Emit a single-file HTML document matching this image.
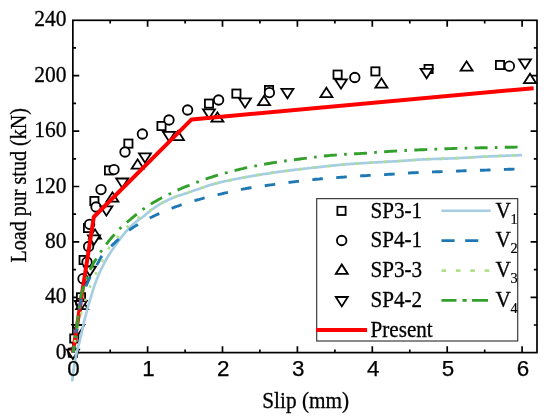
<!DOCTYPE html>
<html lang="en"><head><meta charset="utf-8"><title>Load-slip curves</title>
<style>html,body{margin:0;padding:0;background:#fff}svg{display:block}.se{font-family:"Liberation Serif","Times New Roman",serif;font-size:23px;fill:#000;stroke:#000;stroke-width:0.3px}.sa{font-family:"Liberation Sans",Arial,sans-serif;font-size:22.4px;fill:#000;stroke:#000;stroke-width:0.25px}.sub{font-family:"Liberation Serif",serif;font-size:15.2px;fill:#000;stroke:#000;stroke-width:0.2px}.m{fill:#fff;stroke:#000;stroke-width:1.8}</style></head><body>
<svg width="550" height="420" viewBox="0 0 550 420">
<rect width="550" height="420" fill="#fff"/>
<rect x="72.85" y="20.3" width="464.15" height="332.3" fill="none" stroke="#000" stroke-width="1.7"/>
<path d="M72.85,325.0h3.2M537.0,325.0h-3.2M72.85,297.3h6.4M537.0,297.3h-6.4M72.85,269.6h3.2M537.0,269.6h-3.2M72.85,241.9h6.4M537.0,241.9h-6.4M72.85,214.2h3.2M537.0,214.2h-3.2M72.85,186.5h6.4M537.0,186.5h-6.4M72.85,158.8h3.2M537.0,158.8h-3.2M72.85,131.1h6.4M537.0,131.1h-6.4M72.85,103.3h3.2M537.0,103.3h-3.2M72.85,75.6h6.4M537.0,75.6h-6.4M72.85,47.9h3.2M537.0,47.9h-3.2M110.2,352.6v-3.2M110.2,20.3v3.2M147.6,352.6v-6.4M147.6,20.3v6.4M185.1,352.6v-3.2M185.1,20.3v3.2M222.5,352.6v-6.4M222.5,20.3v6.4M259.9,352.6v-3.2M259.9,20.3v3.2M297.4,352.6v-6.4M297.4,20.3v6.4M334.9,352.6v-3.2M334.9,20.3v3.2M372.3,352.6v-6.4M372.3,20.3v6.4M409.8,352.6v-3.2M409.8,20.3v3.2M447.2,352.6v-6.4M447.2,20.3v6.4M484.7,352.6v-3.2M484.7,20.3v3.2M522.1,352.6v-6.4M522.1,20.3v6.4" stroke="#000" stroke-width="1.7" fill="none"/>
<rect class="m" x="68.8" y="348.6" width="8.2" height="8.2"/>
<rect class="m" x="70.2" y="334.4" width="8.2" height="8.2"/>
<rect class="m" x="76.9" y="293.2" width="8.2" height="8.2"/>
<rect class="m" x="79.5" y="255.9" width="8.2" height="8.2"/>
<rect class="m" x="83.9" y="223.9" width="8.2" height="8.2"/>
<rect class="m" x="90.3" y="196.9" width="8.2" height="8.2"/>
<rect class="m" x="104.9" y="166.3" width="8.2" height="8.2"/>
<rect class="m" x="124.3" y="139.5" width="8.2" height="8.2"/>
<rect class="m" x="157.4" y="121.9" width="8.2" height="8.2"/>
<rect class="m" x="204.9" y="99.5" width="8.2" height="8.2"/>
<rect class="m" x="232.3" y="89.5" width="8.2" height="8.2"/>
<rect class="m" x="264.9" y="85.9" width="8.2" height="8.2"/>
<rect class="m" x="333.5" y="70.5" width="8.2" height="8.2"/>
<rect class="m" x="371.3" y="67.3" width="8.2" height="8.2"/>
<rect class="m" x="424.5" y="64.9" width="8.2" height="8.2"/>
<rect class="m" x="495.9" y="60.9" width="8.2" height="8.2"/>
<circle class="m" cx="72.9" cy="352.7" r="4.75"/>
<circle class="m" cx="80.6" cy="303.1" r="4.75"/>
<circle class="m" cx="83.0" cy="278.7" r="4.75"/>
<circle class="m" cx="87.0" cy="262.0" r="4.75"/>
<circle class="m" cx="88.6" cy="246.5" r="4.75"/>
<circle class="m" cx="89.6" cy="224.3" r="4.75"/>
<circle class="m" cx="96.0" cy="207.0" r="4.75"/>
<circle class="m" cx="101.0" cy="189.6" r="4.75"/>
<circle class="m" cx="114.0" cy="169.6" r="4.75"/>
<circle class="m" cx="125.0" cy="152.0" r="4.75"/>
<circle class="m" cx="142.4" cy="134.0" r="4.75"/>
<circle class="m" cx="169.0" cy="120.0" r="4.75"/>
<circle class="m" cx="187.6" cy="110.0" r="4.75"/>
<circle class="m" cx="218.6" cy="100.0" r="4.75"/>
<circle class="m" cx="269.4" cy="92.6" r="4.75"/>
<circle class="m" cx="354.8" cy="77.5" r="4.75"/>
<circle class="m" cx="509.4" cy="66.2" r="4.75"/>
<path class="m" d="M76.1,309.2L88.1,309.2L82.1,299.8Z"/>
<path class="m" d="M89.0,238.7L101.0,238.7L95.0,229.3Z"/>
<path class="m" d="M106.4,201.7L118.4,201.7L112.4,192.3Z"/>
<path class="m" d="M131.6,168.7L143.6,168.7L137.6,159.3Z"/>
<path class="m" d="M172.0,140.2L184.0,140.2L178.0,130.8Z"/>
<path class="m" d="M211.4,121.7L223.4,121.7L217.4,112.3Z"/>
<path class="m" d="M258.0,105.2L270.0,105.2L264.0,95.8Z"/>
<path class="m" d="M320.4,97.1L332.4,97.1L326.4,87.7Z"/>
<path class="m" d="M375.4,87.7L387.4,87.7L381.4,78.3Z"/>
<path class="m" d="M460.6,70.7L472.6,70.7L466.6,61.3Z"/>
<path class="m" d="M524.0,83.1L536.0,83.1L530.0,73.7Z"/>
<path class="m" d="M66.9,349.6L78.9,349.6L72.9,359.0Z"/>
<path class="m" d="M72.3,325.0L84.3,325.0L78.3,334.4Z"/>
<path class="m" d="M74.8,301.0L86.8,301.0L80.8,310.4Z"/>
<path class="m" d="M83.9,266.6L95.9,266.6L89.9,276.0Z"/>
<path class="m" d="M88.0,235.3L100.0,235.3L94.0,244.7Z"/>
<path class="m" d="M100.4,206.3L112.4,206.3L106.4,215.7Z"/>
<path class="m" d="M116.2,178.5L128.2,178.5L122.2,187.9Z"/>
<path class="m" d="M139.0,153.3L151.0,153.3L145.0,162.7Z"/>
<path class="m" d="M163.0,131.9L175.0,131.9L169.0,141.3Z"/>
<path class="m" d="M203.0,109.3L215.0,109.3L209.0,118.7Z"/>
<path class="m" d="M239.0,98.3L251.0,98.3L245.0,107.7Z"/>
<path class="m" d="M281.4,88.9L293.4,88.9L287.4,98.3Z"/>
<path class="m" d="M335.0,79.3L347.0,79.3L341.0,88.7Z"/>
<path class="m" d="M420.6,68.9L432.6,68.9L426.6,78.3Z"/>
<path class="m" d="M519.0,59.3L531.0,59.3L525.0,68.7Z"/>
<path d="M72.9,352.8 L93.8,217.0 L191.6,119.4 L533.6,88.2" fill="none" stroke="#ff0000" stroke-width="4" stroke-linejoin="round"/>
<path d="M72.2,381.5 L72.3,380.1 L72.5,378.6 L72.6,377.2 L72.8,375.8 L73.0,374.3 L73.2,372.9 L73.3,371.5 L73.6,370.1 L73.8,368.6 L74.0,367.2 L74.2,365.8 L74.5,364.4 L74.7,363.0 L75.0,361.6 L75.2,360.2 L75.5,358.7 L75.8,357.3 L76.0,355.9 L76.3,354.5 L76.6,353.1 L76.9,351.7 L77.2,350.3 L77.6,348.9 L77.9,347.5 L78.3,346.2 L78.7,344.8 L79.1,343.4 L79.5,342.0 L79.8,340.6 L80.2,339.2 L80.5,337.8 L80.8,336.4 L81.2,335.0 L81.5,333.6 L81.8,332.2 L82.1,330.8 L82.4,329.4 L82.7,328.0 L83.0,326.6 L83.3,325.2 L83.6,323.8 L83.9,322.4 L84.3,321.0 L84.6,319.6 L84.9,318.2 L85.3,316.8 L85.7,315.4 L86.0,314.1 L86.4,312.7 L86.8,311.3 L87.1,309.9 L87.5,308.5 L87.9,307.1 L88.3,305.7 L88.7,304.4 L89.1,303.0 L89.5,301.6 L89.9,300.2 L90.3,298.9 L90.8,297.5 L91.2,296.1 L91.6,294.7 L92.0,293.3 L92.4,292.0 L92.8,290.6 L93.3,289.2 L93.7,287.9 L94.2,286.5 L94.6,285.1 L95.1,283.8 L95.6,282.4 L96.1,281.1 L96.6,279.8 L97.1,278.4 L97.7,277.1 L98.2,275.8 L98.8,274.5 L99.4,273.1 L100.0,271.8 L100.6,270.5 L101.2,269.2 L101.8,267.9 L102.5,266.6 L103.1,265.4 L103.8,264.1 L104.4,262.8 L105.1,261.5 L105.8,260.3 L106.5,259.0 L107.2,257.8 L107.9,256.6 L108.7,255.3 L109.5,254.1 L110.2,252.9 L111.0,251.7 L111.8,250.5 L112.7,249.3 L113.5,248.2 L114.3,247.0 L115.1,245.8 L116.0,244.6 L116.8,243.5 L117.6,242.3 L118.5,241.1 L119.3,240.0 L120.2,238.8 L121.1,237.7 L121.9,236.5 L122.8,235.4 L123.7,234.3 L124.7,233.2 L125.6,232.1 L126.5,231.0 L127.5,230.0 L128.5,228.9 L129.5,227.8 L130.5,226.8 L131.5,225.8 L132.5,224.8 L133.6,223.8 L134.6,222.9 L135.7,222.0 L136.9,221.1 L138.0,220.3 L139.2,219.4 L140.4,218.6 L141.6,217.8 L142.7,217.0 L143.9,216.1 L145.0,215.2 L146.1,214.3 L147.2,213.3 L148.3,212.4 L149.4,211.5 L150.5,210.6 L151.7,209.7 L152.8,208.9 L154.0,208.1 L155.2,207.2 L156.4,206.4 L157.6,205.6 L158.8,204.9 L160.0,204.1 L161.3,203.4 L162.5,202.7 L163.8,202.0 L165.1,201.4 L166.3,200.8 L167.6,200.1 L169.0,199.5 L170.3,198.9 L171.6,198.4 L172.9,197.8 L174.3,197.3 L175.6,196.8 L176.9,196.3 L178.3,195.8 L179.7,195.4 L181.0,194.9 L182.4,194.5 L183.8,194.0 L185.1,193.6 L186.5,193.2 L187.9,192.7 L189.2,192.2 L190.6,191.8 L191.9,191.3 L193.3,190.8 L194.7,190.3 L196.0,189.9 L197.4,189.4 L198.7,188.9 L200.1,188.4 L201.4,187.9 L202.8,187.5 L204.2,187.0 L205.5,186.5 L206.9,186.1 L208.2,185.6 L209.6,185.2 L211.0,184.8 L212.4,184.4 L213.7,184.0 L215.1,183.6 L216.5,183.3 L217.9,182.9 L219.3,182.6 L220.7,182.2 L222.1,181.9 L223.5,181.6 L224.9,181.3 L226.3,181.0 L227.7,180.7 L229.1,180.4 L230.5,180.1 L231.9,179.8 L233.3,179.5 L234.7,179.2 L236.1,179.0 L237.5,178.7 L239.0,178.4 L240.4,178.2 L241.8,177.9 L243.2,177.6 L244.6,177.4 L246.0,177.1 L247.4,176.8 L248.8,176.6 L250.2,176.3 L251.7,176.1 L253.1,175.8 L254.5,175.6 L255.9,175.4 L257.3,175.1 L258.7,174.9 L260.2,174.7 L261.6,174.4 L263.0,174.2 L264.4,174.0 L265.8,173.8 L267.2,173.6 L268.7,173.4 L270.1,173.1 L271.5,172.9 L272.9,172.7 L274.4,172.5 L275.8,172.3 L277.2,172.1 L278.6,171.9 L280.0,171.7 L281.5,171.5 L282.9,171.4 L284.3,171.2 L285.7,171.0 L287.2,170.8 L288.6,170.6 L290.0,170.4 L291.4,170.2 L292.9,170.1 L294.3,169.9 L295.7,169.7 L297.1,169.5 L298.6,169.4 L300.0,169.2 L301.4,169.0 L302.8,168.9 L304.3,168.7 L305.7,168.5 L307.1,168.4 L308.5,168.2 L310.0,168.0 L311.4,167.9 L312.8,167.7 L314.2,167.6 L315.7,167.4 L317.1,167.3 L318.5,167.1 L320.0,166.9 L321.4,166.8 L322.8,166.6 L324.2,166.5 L325.7,166.3 L327.1,166.2 L328.5,166.0 L329.9,165.9 L331.4,165.7 L332.8,165.6 L334.2,165.4 L335.7,165.3 L337.1,165.1 L338.5,165.0 L339.9,164.9 L341.4,164.7 L342.8,164.6 L344.2,164.5 L345.7,164.3 L347.1,164.2 L348.5,164.1 L350.0,164.0 L351.4,163.9 L352.8,163.8 L354.3,163.7 L355.7,163.6 L357.1,163.5 L358.6,163.4 L360.0,163.3 L361.4,163.2 L362.9,163.2 L364.3,163.1 L365.7,163.0 L367.2,162.9 L368.6,162.8 L370.0,162.7 L371.5,162.6 L372.9,162.5 L374.3,162.5 L375.8,162.4 L377.2,162.3 L378.6,162.2 L380.1,162.1 L381.5,162.1 L382.9,162.0 L384.4,161.9 L385.8,161.8 L387.2,161.7 L388.7,161.7 L390.1,161.6 L391.5,161.5 L393.0,161.4 L394.4,161.3 L395.8,161.3 L397.3,161.2 L398.7,161.1 L400.1,161.0 L401.6,160.9 L403.0,160.8 L404.4,160.7 L405.8,160.6 L407.3,160.5 L408.7,160.4 L410.1,160.3 L411.6,160.2 L413.0,160.1 L414.4,160.0 L415.9,159.9 L417.3,159.7 L418.7,159.7 L420.2,159.6 L421.6,159.5 L423.0,159.4 L424.5,159.3 L425.9,159.3 L427.3,159.2 L428.8,159.2 L430.2,159.1 L431.6,159.1 L433.1,159.0 L434.5,159.0 L435.9,158.9 L437.4,158.9 L438.8,158.9 L440.3,158.8 L441.7,158.8 L443.1,158.7 L444.6,158.7 L446.0,158.6 L447.4,158.6 L448.9,158.5 L450.3,158.5 L451.7,158.4 L453.2,158.4 L454.6,158.3 L456.0,158.2 L457.5,158.2 L458.9,158.1 L460.3,158.0 L461.8,157.9 L463.2,157.8 L464.6,157.8 L466.1,157.7 L467.5,157.6 L468.9,157.5 L470.4,157.4 L471.8,157.3 L473.2,157.3 L474.7,157.2 L476.1,157.1 L477.5,157.0 L479.0,156.9 L480.4,156.9 L481.8,156.8 L483.3,156.7 L484.7,156.6 L486.1,156.6 L487.6,156.5 L489.0,156.4 L490.4,156.4 L491.9,156.3 L493.3,156.2 L494.7,156.2 L496.2,156.1 L497.6,156.1 L499.0,156.0 L500.5,155.9 L501.9,155.9 L503.3,155.8 L504.8,155.8 L506.2,155.7 L507.7,155.6 L509.1,155.6 L510.5,155.5 L512.0,155.5 L513.4,155.4 L514.8,155.4 L516.3,155.3 L517.7,155.3 L519.1,155.2 L520.6,155.2 L522.0,155.1" fill="none" stroke="#a6cee3" stroke-width="2.7"/>
<path d="M73.2,352.6 L73.4,351.3 L73.6,350.0 L73.8,348.6 L74.0,347.3 L74.2,346.0 L74.3,344.7 L74.5,343.3 L74.7,342.0 L74.9,340.7 L75.1,339.4 L75.3,338.0 L75.5,336.7 L75.7,335.4 L75.9,334.1 L76.0,332.7 L76.2,331.4 L76.4,330.1 L76.6,328.7 L76.8,327.4 L77.0,326.1 L77.2,324.8 L77.3,323.4 L77.5,322.1 L77.7,320.8 L77.9,319.5 L78.1,318.1 L78.3,316.8 L78.5,315.5 L78.7,314.2 L78.9,312.8 L79.0,311.5 L79.2,310.2 L79.4,308.8 L79.6,307.5 L79.8,306.2 L80.0,304.9 L80.3,303.5 L80.5,302.2 L80.8,300.9 L81.1,299.7 L81.4,298.4 L81.8,297.1 L82.1,295.8 L82.6,294.5 L83.0,293.3 L83.5,292.0 L84.0,290.8 L84.5,289.5 L85.0,288.3 L85.5,287.0 L86.1,285.8 L86.6,284.6 L87.2,283.3 L87.7,282.1 L88.3,280.9 L88.8,279.7 L89.4,278.5 L90.0,277.3 L90.6,276.1 L91.3,274.9 L91.9,273.8 L92.5,272.6 L93.2,271.4 L93.9,270.2 L94.5,269.1 L95.2,267.9 L95.8,266.7 L96.5,265.6 L97.2,264.4 L97.8,263.2 L98.5,262.1 L99.1,260.9 L99.7,259.7 L100.3,258.5 L101.0,257.3 L101.7,256.2 L102.5,255.2 L103.3,254.1 L104.1,253.1 L105.0,252.1 L106.0,251.1 L106.9,250.2 L107.9,249.2 L108.8,248.3 L109.8,247.4 L110.8,246.4 L111.8,245.5 L112.8,244.6 L113.8,243.7 L114.8,242.8 L115.7,241.9 L116.7,240.9 L117.7,240.0 L118.7,239.1 L119.7,238.2 L120.7,237.3 L121.7,236.4 L122.7,235.5 L123.7,234.6 L124.8,233.8 L125.8,232.9 L126.8,232.1 L127.9,231.2 L128.9,230.4 L130.0,229.6 L131.1,228.8 L132.2,228.1 L133.3,227.3 L134.4,226.6 L135.5,225.9 L136.6,225.2 L137.8,224.5 L138.9,223.8 L140.1,223.2 L141.2,222.5 L142.4,221.8 L143.6,221.2 L144.8,220.6 L146.0,220.0 L147.2,219.3 L148.4,218.7 L149.6,218.1 L150.8,217.5 L152.0,217.0 L153.2,216.4 L154.4,215.8 L155.6,215.2 L156.8,214.7 L158.0,214.1 L159.3,213.5 L160.5,213.0 L161.7,212.5 L162.9,211.9 L164.2,211.4 L165.4,210.9 L166.6,210.3 L167.9,209.8 L169.1,209.3 L170.4,208.8 L171.6,208.3 L172.9,207.8 L174.1,207.4 L175.4,206.9 L176.6,206.5 L177.9,206.0 L179.1,205.6 L180.4,205.1 L181.7,204.7 L182.9,204.3 L184.2,203.9 L185.5,203.5 L186.8,203.0 L188.0,202.6 L189.3,202.3 L190.6,201.9 L191.9,201.5 L193.2,201.1 L194.5,200.7 L195.8,200.4 L197.0,200.0 L198.3,199.6 L199.6,199.3 L200.9,198.9 L202.2,198.6 L203.5,198.2 L204.8,197.9 L206.1,197.5 L207.4,197.2 L208.7,196.9 L210.0,196.6 L211.3,196.2 L212.6,195.9 L213.9,195.6 L215.2,195.3 L216.5,195.0 L217.8,194.7 L219.1,194.4 L220.4,194.1 L221.7,193.8 L223.0,193.5 L224.3,193.2 L225.6,192.9 L226.9,192.6 L228.2,192.3 L229.5,192.0 L230.8,191.7 L232.1,191.4 L233.4,191.1 L234.8,190.8 L236.1,190.5 L237.4,190.2 L238.7,190.0 L240.0,189.7 L241.3,189.4 L242.6,189.2 L243.9,188.9 L245.2,188.7 L246.6,188.4 L247.9,188.2 L249.2,188.0 L250.5,187.8 L251.8,187.6 L253.2,187.4 L254.5,187.2 L255.8,187.0 L257.1,186.8 L258.5,186.6 L259.8,186.4 L261.1,186.2 L262.4,186.1 L263.8,185.9 L265.1,185.7 L266.4,185.5 L267.7,185.3 L269.1,185.1 L270.4,184.9 L271.7,184.8 L273.1,184.6 L274.4,184.4 L275.7,184.2 L277.0,184.0 L278.4,183.8 L279.7,183.7 L281.0,183.5 L282.3,183.3 L283.7,183.1 L285.0,182.9 L286.3,182.8 L287.6,182.6 L289.0,182.4 L290.3,182.3 L291.6,182.1 L293.0,181.9 L294.3,181.8 L295.6,181.6 L296.9,181.4 L298.3,181.3 L299.6,181.1 L300.9,181.0 L302.3,180.8 L303.6,180.6 L304.9,180.5 L306.2,180.3 L307.6,180.2 L308.9,180.0 L310.2,179.9 L311.6,179.7 L312.9,179.6 L314.2,179.5 L315.6,179.3 L316.9,179.2 L318.2,179.1 L319.6,179.0 L320.9,178.8 L322.2,178.7 L323.6,178.6 L324.9,178.5 L326.2,178.4 L327.6,178.3 L328.9,178.2 L330.2,178.1 L331.6,178.0 L332.9,177.9 L334.2,177.8 L335.6,177.7 L336.9,177.6 L338.2,177.5 L339.6,177.4 L340.9,177.3 L342.2,177.2 L343.6,177.1 L344.9,177.0 L346.2,176.9 L347.6,176.8 L348.9,176.7 L350.3,176.6 L351.6,176.5 L352.9,176.4 L354.3,176.4 L355.6,176.3 L356.9,176.2 L358.3,176.1 L359.6,176.0 L360.9,175.9 L362.3,175.8 L363.6,175.8 L364.9,175.7 L366.3,175.6 L367.6,175.5 L369.0,175.4 L370.3,175.4 L371.6,175.3 L373.0,175.2 L374.3,175.1 L375.6,175.1 L377.0,175.0 L378.3,174.9 L379.6,174.8 L381.0,174.8 L382.3,174.7 L383.7,174.6 L385.0,174.6 L386.3,174.5 L387.7,174.4 L389.0,174.3 L390.3,174.2 L391.7,174.2 L393.0,174.1 L394.3,174.0 L395.7,173.9 L397.0,173.8 L398.4,173.7 L399.7,173.6 L401.0,173.5 L402.4,173.4 L403.7,173.3 L405.0,173.2 L406.4,173.2 L407.7,173.1 L409.0,173.0 L410.4,172.9 L411.7,172.8 L413.0,172.8 L414.4,172.7 L415.7,172.6 L417.1,172.6 L418.4,172.5 L419.7,172.4 L421.1,172.4 L422.4,172.3 L423.7,172.3 L425.1,172.2 L426.4,172.2 L427.7,172.1 L429.1,172.1 L430.4,172.0 L431.8,172.0 L433.1,171.9 L434.4,171.9 L435.8,171.8 L437.1,171.8 L438.5,171.7 L439.8,171.7 L441.1,171.6 L442.5,171.6 L443.8,171.5 L445.1,171.5 L446.5,171.4 L447.8,171.4 L449.2,171.4 L450.5,171.3 L451.8,171.3 L453.2,171.2 L454.5,171.2 L455.8,171.1 L457.2,171.1 L458.5,171.0 L459.9,171.0 L461.2,170.9 L462.5,170.9 L463.9,170.8 L465.2,170.8 L466.5,170.7 L467.9,170.7 L469.2,170.7 L470.6,170.6 L471.9,170.6 L473.2,170.5 L474.6,170.5 L475.9,170.4 L477.2,170.4 L478.6,170.3 L479.9,170.3 L481.3,170.2 L482.6,170.2 L483.9,170.2 L485.3,170.1 L486.6,170.1 L487.9,170.0 L489.3,170.0 L490.6,169.9 L492.0,169.9 L493.3,169.8 L494.6,169.8 L496.0,169.7 L497.3,169.7 L498.6,169.7 L500.0,169.6 L501.3,169.6 L502.7,169.5 L504.0,169.5 L505.3,169.4 L506.7,169.4 L508.0,169.3 L509.3,169.3 L510.7,169.2 L512.0,169.2 L513.4,169.1 L514.7,169.1" fill="none" stroke="#1f78b4" stroke-width="2.9" stroke-dasharray="10.6 13.4" stroke-dashoffset="4.36"/>
<path d="M73.2,352.6 L73.4,351.3 L73.5,349.9 L73.7,348.6 L73.9,347.2 L74.1,345.9 L74.3,344.5 L74.6,343.2 L74.8,341.9 L75.0,340.5 L75.3,339.2 L75.5,337.9 L75.8,336.5 L76.1,335.2 L76.4,333.9 L76.7,332.6 L77.0,331.3 L77.3,329.9 L77.6,328.6 L78.0,327.3 L78.3,326.0 L78.6,324.7 L78.9,323.3 L79.2,322.0 L79.5,320.7 L79.7,319.4 L80.0,318.0 L80.3,316.7 L80.6,315.4 L81.0,314.1 L81.3,312.8 L81.6,311.5 L82.0,310.2 L82.4,308.9 L82.8,307.6 L83.3,306.3 L83.7,305.0 L84.2,303.7 L84.6,302.5 L85.1,301.2 L85.5,299.9 L86.0,298.6 L86.4,297.3 L86.8,296.1 L87.2,294.8 L87.7,293.5 L88.1,292.2 L88.5,290.9 L89.0,289.6 L89.4,288.3 L89.9,287.1 L90.4,285.8 L90.9,284.6 L91.4,283.3 L91.9,282.1 L92.5,280.8 L93.0,279.6 L93.6,278.3 L94.2,277.1 L94.7,275.9 L95.3,274.7 L95.9,273.4 L96.5,272.2 L97.1,271.0 L97.6,269.8 L98.2,268.5 L98.8,267.3 L99.4,266.1 L100.0,264.9 L100.6,263.7 L101.2,262.5 L101.9,261.3 L102.5,260.1 L103.1,258.8 L103.7,257.6 L104.3,256.4 L104.9,255.2 L105.5,254.0 L106.2,252.8 L106.8,251.6 L107.5,250.4 L108.2,249.3 L108.9,248.2 L109.7,247.0 L110.5,246.0 L111.3,244.9 L112.1,243.8 L113.0,242.7 L113.9,241.7 L114.7,240.7 L115.6,239.6 L116.5,238.6 L117.4,237.5 L118.3,236.5 L119.1,235.5 L120.0,234.4 L120.9,233.4 L121.8,232.4 L122.7,231.4 L123.6,230.4 L124.6,229.4 L125.5,228.5 L126.5,227.5 L127.5,226.6 L128.5,225.7 L129.5,224.8 L130.5,223.9 L131.5,223.0 L132.6,222.1 L133.7,221.3 L134.7,220.4 L135.8,219.6 L136.9,218.8 L138.0,218.0 L139.1,217.2 L140.2,216.5 L141.3,215.8 L142.5,215.0 L143.7,214.3 L144.8,213.6 L146.0,212.9 L147.1,212.2 L148.3,211.5 L149.5,210.8 L150.6,210.1 L151.8,209.4 L152.9,208.6 L154.0,207.9 L155.2,207.1 L156.3,206.4 L157.5,205.7 L158.6,205.0 L159.8,204.3 L160.9,203.6 L162.1,202.9 L163.3,202.3 L164.5,201.7 L165.7,201.1 L167.0,200.5 L168.2,199.9 L169.4,199.3 L170.7,198.8 L171.9,198.3 L173.2,197.7 L174.4,197.2 L175.7,196.7 L176.9,196.3 L178.2,195.8 L179.5,195.4 L180.8,195.0 L182.1,194.6 L183.4,194.2 L184.7,193.8 L186.0,193.3 L187.3,192.9 L188.5,192.5 L189.8,192.0 L191.1,191.6 L192.4,191.2 L193.7,190.7 L194.9,190.2 L196.2,189.8 L197.5,189.3 L198.8,188.9 L200.1,188.4 L201.4,188.0 L202.6,187.5 L203.9,187.1 L205.2,186.6 L206.5,186.2 L207.8,185.8 L209.1,185.4 L210.4,185.0 L211.6,184.6 L212.9,184.2 L214.2,183.8 L215.5,183.5 L216.9,183.2 L218.2,182.8 L219.5,182.5 L220.8,182.2 L222.1,181.9 L223.4,181.6 L224.8,181.3 L226.1,181.0 L227.4,180.7 L228.7,180.4 L230.1,180.2 L231.4,179.9 L232.7,179.6 L234.1,179.4 L235.4,179.1 L236.7,178.9 L238.1,178.6 L239.4,178.3 L240.7,178.1 L242.1,177.8 L243.4,177.6 L244.7,177.3 L246.0,177.1 L247.4,176.9 L248.7,176.6 L250.0,176.4 L251.4,176.1 L252.7,175.9 L254.1,175.7 L255.4,175.4 L256.7,175.2 L258.1,175.0 L259.4,174.8 L260.7,174.6 L262.1,174.4 L263.4,174.1 L264.8,173.9 L266.1,173.7 L267.4,173.5 L268.8,173.3 L270.1,173.1 L271.5,172.9 L272.8,172.7 L274.1,172.6 L275.5,172.4 L276.8,172.2 L278.2,172.0 L279.5,171.8 L280.9,171.6 L282.2,171.4 L283.5,171.3 L284.9,171.1 L286.2,170.9 L287.6,170.7 L288.9,170.6 L290.3,170.4 L291.6,170.2 L293.0,170.1 L294.3,169.9 L295.6,169.7 L297.0,169.6 L298.3,169.4 L299.7,169.2 L301.0,169.1 L302.4,168.9 L303.7,168.7 L305.1,168.6 L306.4,168.4 L307.8,168.3 L309.1,168.1 L310.4,168.0 L311.8,167.8 L313.1,167.7 L314.5,167.5 L315.8,167.4 L317.2,167.2 L318.5,167.1 L319.9,167.0 L321.2,166.8 L322.6,166.7 L323.9,166.5 L325.3,166.4 L326.6,166.2 L328.0,166.1 L329.3,166.0 L330.7,165.8 L332.0,165.7 L333.4,165.5 L334.7,165.4 L336.1,165.3 L337.4,165.1 L338.7,165.0 L340.1,164.8 L341.4,164.7 L342.8,164.6 L344.1,164.5 L345.5,164.4 L346.8,164.3 L348.2,164.1 L349.5,164.0 L350.9,163.9 L352.2,163.9 L353.6,163.8 L355.0,163.7 L356.3,163.6 L357.7,163.5 L359.0,163.4 L360.4,163.3 L361.7,163.2 L363.1,163.1 L364.4,163.1 L365.8,163.0 L367.1,162.9 L368.5,162.8 L369.8,162.7 L371.2,162.6 L372.5,162.6 L373.9,162.5 L375.2,162.4 L376.6,162.3 L377.9,162.2 L379.3,162.2 L380.7,162.1 L382.0,162.0 L383.4,162.0 L384.7,161.9 L386.1,161.8 L387.4,161.7 L388.8,161.7 L390.1,161.6 L391.5,161.5 L392.8,161.4 L394.2,161.4 L395.5,161.3 L396.9,161.2 L398.2,161.1 L399.6,161.0 L401.0,161.0 L402.3,160.9 L403.7,160.8 L405.0,160.7 L406.4,160.6 L407.7,160.5 L409.1,160.4 L410.4,160.3 L411.8,160.2 L413.1,160.1 L414.5,160.0 L415.8,159.9 L417.2,159.8 L418.5,159.7 L419.9,159.6 L421.2,159.5 L422.6,159.4 L423.9,159.3 L425.3,159.3 L426.6,159.2 L428.0,159.2 L429.3,159.1 L430.7,159.1 L432.1,159.0 L433.4,159.0 L434.8,159.0 L436.1,158.9 L437.5,158.9 L438.8,158.9 L440.2,158.8 L441.5,158.8 L442.9,158.7 L444.3,158.7 L445.6,158.7 L447.0,158.6 L448.3,158.6 L449.7,158.5 L451.0,158.5 L452.4,158.4 L453.7,158.3 L455.1,158.3 L456.4,158.2 L457.8,158.1 L459.1,158.1 L460.5,158.0 L461.9,157.9 L463.2,157.8 L464.6,157.8 L465.9,157.7 L467.3,157.6 L468.6,157.5 L470.0,157.4 L471.3,157.4 L472.7,157.3 L474.0,157.2 L475.4,157.1 L476.7,157.1 L478.1,157.0 L479.4,156.9 L480.8,156.8 L482.1,156.8 L483.5,156.7 L484.9,156.6 L486.2,156.6 L487.6,156.5 L488.9,156.5 L490.3,156.4 L491.6,156.3 L493.0,156.3 L494.3,156.2 L495.7,156.2 L497.0,156.1 L498.4,156.1 L499.7,156.0 L501.1,155.9 L502.5,155.9 L503.8,155.8 L505.2,155.8 L506.5,155.7 L507.9,155.7 L509.2,155.6 L510.6,155.6 L511.9,155.5 L513.3,155.5 L514.6,155.4 L516.0,155.4" fill="none" stroke="#b2df8a" stroke-width="2.7" stroke-dasharray="2.7 11.55" stroke-dashoffset="4.11"/>
<path d="M73.2,352.6 L73.4,351.2 L73.6,349.9 L73.8,348.5 L74.0,347.1 L74.2,345.8 L74.3,344.4 L74.5,343.0 L74.7,341.7 L74.9,340.3 L75.1,338.9 L75.3,337.6 L75.5,336.2 L75.7,334.8 L75.8,333.5 L76.0,332.1 L76.2,330.7 L76.4,329.4 L76.6,328.0 L76.8,326.6 L76.9,325.3 L77.1,323.9 L77.3,322.5 L77.5,321.2 L77.7,319.8 L77.9,318.4 L78.1,317.1 L78.2,315.7 L78.4,314.3 L78.6,313.0 L78.8,311.6 L78.9,310.2 L79.1,308.8 L79.3,307.5 L79.4,306.1 L79.6,304.7 L79.8,303.3 L80.0,302.0 L80.2,300.6 L80.4,299.3 L80.6,297.9 L80.9,296.6 L81.2,295.2 L81.5,293.9 L81.9,292.6 L82.3,291.2 L82.7,289.9 L83.1,288.6 L83.6,287.3 L84.0,286.0 L84.4,284.7 L84.9,283.4 L85.4,282.1 L85.9,280.8 L86.4,279.5 L86.8,278.2 L87.3,276.9 L87.8,275.6 L88.3,274.3 L88.8,273.0 L89.3,271.8 L89.8,270.5 L90.4,269.2 L91.0,268.0 L91.6,266.8 L92.3,265.5 L92.9,264.3 L93.6,263.1 L94.3,261.9 L95.0,260.8 L95.8,259.6 L96.5,258.4 L97.2,257.2 L98.0,256.1 L98.7,254.9 L99.5,253.8 L100.2,252.6 L101.0,251.5 L101.8,250.4 L102.6,249.2 L103.4,248.1 L104.2,247.0 L105.1,245.9 L105.9,244.8 L106.7,243.7 L107.6,242.6 L108.4,241.5 L109.3,240.4 L110.2,239.4 L111.1,238.3 L112.0,237.3 L112.8,236.2 L113.8,235.2 L114.7,234.1 L115.6,233.1 L116.5,232.1 L117.5,231.1 L118.4,230.1 L119.4,229.1 L120.4,228.1 L121.4,227.2 L122.4,226.3 L123.4,225.3 L124.4,224.4 L125.5,223.5 L126.5,222.6 L127.6,221.7 L128.7,220.9 L129.7,220.0 L130.8,219.1 L131.8,218.2 L132.9,217.3 L134.0,216.4 L135.0,215.6 L136.1,214.7 L137.2,213.8 L138.3,213.0 L139.3,212.1 L140.4,211.3 L141.5,210.4 L142.6,209.6 L143.8,208.8 L144.9,208.0 L146.0,207.2 L147.2,206.5 L148.3,205.7 L149.5,205.0 L150.7,204.2 L151.8,203.5 L153.0,202.8 L154.2,202.1 L155.4,201.4 L156.6,200.7 L157.8,200.0 L159.0,199.3 L160.2,198.7 L161.4,198.0 L162.6,197.4 L163.9,196.8 L165.1,196.2 L166.3,195.5 L167.6,194.9 L168.8,194.3 L170.1,193.7 L171.3,193.1 L172.5,192.5 L173.8,191.9 L175.0,191.3 L176.3,190.8 L177.5,190.2 L178.8,189.6 L180.1,189.0 L181.3,188.5 L182.6,187.9 L183.9,187.4 L185.1,186.8 L186.4,186.3 L187.7,185.8 L189.0,185.3 L190.2,184.8 L191.5,184.3 L192.8,183.8 L194.1,183.3 L195.4,182.8 L196.7,182.3 L198.0,181.8 L199.3,181.3 L200.6,180.8 L201.9,180.4 L203.2,179.9 L204.5,179.4 L205.8,179.0 L207.1,178.5 L208.4,178.1 L209.7,177.7 L211.0,177.3 L212.3,176.9 L213.6,176.4 L214.9,176.0 L216.3,175.6 L217.6,175.2 L218.9,174.8 L220.2,174.5 L221.6,174.1 L222.9,173.7 L224.2,173.3 L225.5,172.9 L226.9,172.6 L228.2,172.2 L229.5,171.9 L230.9,171.5 L232.2,171.2 L233.6,170.8 L234.9,170.5 L236.2,170.1 L237.6,169.8 L238.9,169.5 L240.3,169.2 L241.6,168.9 L242.9,168.6 L244.3,168.2 L245.6,167.9 L247.0,167.6 L248.3,167.4 L249.7,167.1 L251.0,166.8 L252.4,166.5 L253.7,166.2 L255.1,165.9 L256.4,165.7 L257.8,165.4 L259.1,165.2 L260.5,164.9 L261.9,164.7 L263.2,164.4 L264.6,164.2 L265.9,163.9 L267.3,163.7 L268.6,163.5 L270.0,163.3 L271.4,163.0 L272.7,162.8 L274.1,162.6 L275.5,162.4 L276.8,162.2 L278.2,162.0 L279.6,161.8 L280.9,161.6 L282.3,161.4 L283.7,161.2 L285.0,161.0 L286.4,160.8 L287.8,160.6 L289.1,160.4 L290.5,160.2 L291.9,160.1 L293.2,159.9 L294.6,159.7 L296.0,159.5 L297.3,159.3 L298.7,159.2 L300.1,159.0 L301.4,158.8 L302.8,158.6 L304.2,158.4 L305.5,158.3 L306.9,158.1 L308.3,157.9 L309.6,157.7 L311.0,157.6 L312.4,157.4 L313.7,157.2 L315.1,157.1 L316.5,156.9 L317.9,156.7 L319.2,156.6 L320.6,156.4 L322.0,156.3 L323.3,156.1 L324.7,156.0 L326.1,155.8 L327.5,155.7 L328.8,155.6 L330.2,155.4 L331.6,155.3 L333.0,155.2 L334.3,155.1 L335.7,155.0 L337.1,154.8 L338.5,154.7 L339.8,154.6 L341.2,154.5 L342.6,154.5 L344.0,154.4 L345.3,154.3 L346.7,154.2 L348.1,154.1 L349.5,154.1 L350.8,154.0 L352.2,153.9 L353.6,153.9 L355.0,153.8 L356.4,153.7 L357.7,153.7 L359.1,153.6 L360.5,153.5 L361.9,153.4 L363.2,153.4 L364.6,153.3 L366.0,153.2 L367.4,153.1 L368.7,153.0 L370.1,152.9 L371.5,152.8 L372.9,152.6 L374.3,152.5 L375.6,152.4 L377.0,152.3 L378.4,152.2 L379.8,152.1 L381.1,152.0 L382.5,151.9 L383.9,151.8 L385.3,151.7 L386.6,151.6 L388.0,151.5 L389.4,151.4 L390.8,151.3 L392.1,151.2 L393.5,151.1 L394.9,151.1 L396.3,151.0 L397.6,150.9 L399.0,150.8 L400.4,150.8 L401.8,150.7 L403.2,150.6 L404.5,150.6 L405.9,150.5 L407.3,150.4 L408.7,150.4 L410.0,150.3 L411.4,150.2 L412.8,150.2 L414.2,150.1 L415.6,150.0 L416.9,150.0 L418.3,149.9 L419.7,149.8 L421.1,149.8 L422.5,149.7 L423.8,149.7 L425.2,149.6 L426.6,149.5 L428.0,149.5 L429.3,149.4 L430.7,149.3 L432.1,149.3 L433.5,149.2 L434.9,149.2 L436.2,149.1 L437.6,149.1 L439.0,149.0 L440.4,148.9 L441.7,148.9 L443.1,148.8 L444.5,148.8 L445.9,148.7 L447.3,148.7 L448.6,148.6 L450.0,148.6 L451.4,148.6 L452.8,148.5 L454.2,148.5 L455.5,148.4 L456.9,148.4 L458.3,148.4 L459.7,148.3 L461.1,148.3 L462.4,148.2 L463.8,148.2 L465.2,148.2 L466.6,148.1 L467.9,148.1 L469.3,148.1 L470.7,148.0 L472.1,148.0 L473.5,148.0 L474.8,147.9 L476.2,147.9 L477.6,147.9 L479.0,147.9 L480.4,147.8 L481.7,147.8 L483.1,147.8 L484.5,147.7 L485.9,147.7 L487.3,147.7 L488.6,147.6 L490.0,147.6 L491.4,147.6 L492.8,147.6 L494.2,147.5 L495.5,147.5 L496.9,147.5 L498.3,147.4 L499.7,147.4 L501.0,147.4 L502.4,147.4 L503.8,147.3 L505.2,147.3 L506.6,147.3 L507.9,147.3 L509.3,147.2 L510.7,147.2 L512.1,147.2 L513.5,147.2 L514.8,147.1 L516.2,147.1 L517.6,147.1" fill="none" stroke="#33a02c" stroke-width="2.9" stroke-dasharray="13 7.3 2.6 7.3" stroke-dashoffset="5.67"/>
<text class="se" transform="translate(66.4,358.7) scale(0.935,1)" text-anchor="end">0</text>
<text class="se" transform="translate(66.4,303.3) scale(0.935,1)" text-anchor="end">40</text>
<text class="se" transform="translate(66.4,247.9) scale(0.935,1)" text-anchor="end">80</text>
<text class="se" transform="translate(66.4,192.5) scale(0.935,1)" text-anchor="end">120</text>
<text class="se" transform="translate(66.4,137.1) scale(0.935,1)" text-anchor="end">160</text>
<text class="se" transform="translate(66.4,81.6) scale(0.935,1)" text-anchor="end">200</text>
<text class="se" transform="translate(66.4,26.2) scale(0.935,1)" text-anchor="end">240</text>
<text class="sa" transform="translate(73.5,375.8) scale(1.0,1)" text-anchor="middle">0</text>
<text class="sa" transform="translate(148.4,375.8) scale(1.0,1)" text-anchor="middle">1</text>
<text class="sa" transform="translate(223.3,375.8) scale(1.0,1)" text-anchor="middle">2</text>
<text class="sa" transform="translate(298.2,375.8) scale(1.0,1)" text-anchor="middle">3</text>
<text class="sa" transform="translate(373.1,375.8) scale(1.0,1)" text-anchor="middle">4</text>
<text class="sa" transform="translate(448.0,375.8) scale(1.0,1)" text-anchor="middle">5</text>
<text class="sa" transform="translate(522.9,375.8) scale(1.0,1)" text-anchor="middle">6</text>
<text class="se" transform="translate(305.7,407.7) scale(0.925,1)" text-anchor="middle">Slip (mm)</text>
<text class="se" transform="translate(25.6,185.3) rotate(-90) scale(0.873,1)" text-anchor="middle">Load pur stud (kN)</text>
<rect x="316.7" y="198.65" width="201" height="142.35" fill="#fff" stroke="#333" stroke-width="1.15"/>
<rect class="m" x="337.4" y="206.8" width="8.2" height="8.2"/>
<circle class="m" cx="341.7" cy="240.5" r="4.75"/>
<path class="m" d="M335.8,273.9L347.8,273.9L341.8,264.5Z"/>
<path class="m" d="M335.8,297.0L347.8,297.0L341.8,306.4Z"/>
<text class="se" transform="translate(370.5,217.9) scale(0.92,1)" text-anchor="start">SP3-1</text>
<text class="se" transform="translate(370.5,247.1) scale(0.92,1)" text-anchor="start">SP4-1</text>
<text class="se" transform="translate(370.5,276.9) scale(0.92,1)" text-anchor="start">SP3-3</text>
<text class="se" transform="translate(370.5,306.8) scale(0.92,1)" text-anchor="start">SP4-2</text>
<text class="se" transform="translate(370.5,336.6) scale(0.92,1)" text-anchor="start">Present</text>
<path d="M316.1,329.9H367.1" stroke="#ff0000" stroke-width="4"/>
<path d="M441.5,210.7H490.7" stroke="#a6cee3" stroke-width="2.6"/>
<text class="se" transform="translate(495.4,217.9) scale(0.925,1)" text-anchor="start">V</text>
<text class="sub" transform="translate(510.4,223.7) scale(0.94,1)" text-anchor="start">1</text>
<path d="M441.5,240.6H490.7" stroke="#1f78b4" stroke-width="2.6" stroke-dasharray="13.1 10.6 13.1 30"/>
<text class="se" transform="translate(495.4,247.1) scale(0.925,1)" text-anchor="start">V</text>
<text class="sub" transform="translate(510.4,252.9) scale(0.94,1)" text-anchor="start">2</text>
<path d="M441.5,270.6H490.7" stroke="#b2df8a" stroke-width="2.6" stroke-dasharray="4.6 9.8"/>
<text class="se" transform="translate(495.4,276.9) scale(0.925,1)" text-anchor="start">V</text>
<text class="sub" transform="translate(510.4,282.7) scale(0.94,1)" text-anchor="start">3</text>
<path d="M441.5,300.4H490.7" stroke="#33a02c" stroke-width="2.6" stroke-dasharray="15 6 4.2 5.3 16 30"/>
<text class="se" transform="translate(495.4,306.8) scale(0.925,1)" text-anchor="start">V</text>
<text class="sub" transform="translate(510.4,312.6) scale(0.94,1)" text-anchor="start">4</text>
</svg></body></html>
